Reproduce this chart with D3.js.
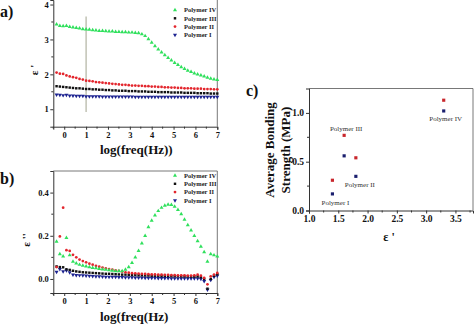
<!DOCTYPE html>
<html><head><meta charset="utf-8">
<script src="https://cdn.jsdelivr.net/npm/d3@7"></script>
<style>body{margin:0;background:#fff}svg{display:block}text{font-family:"Liberation Serif","Times New Roman",serif}</style>
</head><body>
<script>
// ---------- DATA ----------
const logFreq = [-0.35,-0.2,-0.05,0.1,0.25,0.4,0.55,0.7,0.85,1.0,1.15,1.3,1.45,1.6,1.75,1.9,2.05,2.2,2.35,2.5,2.65,2.8,2.95,3.1,3.25,3.4,3.55,3.7,3.85,4.0,4.15,4.3,4.45,4.6,4.75,4.9,5.05,5.2,5.35,5.5,5.65,5.8,5.95,6.1,6.25,6.4,6.55,6.7,6.85,7.0];
const seriesNames = ["Polymer IV","Polymer III","Polymer II","Polymer I"];
// eps' (panel a)
const eps1_IV  = [3.43,3.39,3.38,3.39,3.36,3.35,3.33,3.32,3.30,3.29,3.28,3.27,3.26,3.25,3.25,3.24,3.23,3.23,3.22,3.22,3.21,3.21,3.20,3.20,3.19,3.18,3.15,3.10,3.01,2.91,2.81,2.72,2.63,2.55,2.47,2.40,2.33,2.27,2.21,2.16,2.11,2.07,2.03,2.00,1.97,1.94,1.91,1.88,1.86,1.84];
const eps1_III = [1.66,1.65,1.64,1.63,1.62,1.61,1.60,1.60,1.59,1.58,1.58,1.57,1.57,1.56,1.56,1.55,1.55,1.54,1.54,1.53,1.53,1.53,1.52,1.52,1.52,1.51,1.51,1.51,1.50,1.50,1.50,1.49,1.49,1.49,1.49,1.48,1.48,1.48,1.48,1.47,1.47,1.47,1.47,1.46,1.46,1.46,1.46,1.45,1.45,1.45];
const eps1_II  = [2.05,2.02,2.01,1.97,1.94,1.92,1.90,1.87,1.85,1.82,1.81,1.80,1.78,1.77,1.76,1.75,1.74,1.73,1.72,1.71,1.70,1.70,1.69,1.68,1.68,1.67,1.67,1.66,1.66,1.65,1.65,1.64,1.64,1.63,1.63,1.62,1.62,1.61,1.61,1.60,1.60,1.60,1.59,1.59,1.59,1.58,1.58,1.58,1.57,1.57];
const eps1_I   = [1.42,1.41,1.40,1.41,1.39,1.39,1.38,1.38,1.38,1.37,1.37,1.37,1.37,1.37,1.36,1.36,1.36,1.36,1.36,1.36,1.36,1.36,1.36,1.36,1.35,1.35,1.35,1.35,1.35,1.35,1.35,1.35,1.35,1.35,1.35,1.35,1.35,1.35,1.35,1.35,1.35,1.35,1.35,1.35,1.35,1.35,1.35,1.35,1.35,1.35];
// eps'' (panel b)
const eps2_IV  = [0.173,0.115,0.105,0.19,0.11,0.08,0.072,0.066,0.062,0.058,0.055,0.052,0.05,0.047,0.045,0.043,0.041,0.039,0.037,0.036,0.037,0.043,0.055,0.075,0.10,0.13,0.165,0.20,0.24,0.27,0.295,0.315,0.33,0.34,0.345,0.343,0.335,0.32,0.30,0.275,0.25,0.225,0.20,0.175,0.15,0.125,0.08,0.115,0.11,0.105];
const eps2_III = [0.058,0.055,0.054,0.045,0.042,0.038,0.035,0.033,0.031,0.030,0.029,0.028,0.027,0.026,0.025,0.024,0.024,0.023,0.022,0.021,0.020,0.020,0.019,0.018,0.018,0.017,0.017,0.016,0.016,0.015,0.015,0.015,0.014,0.014,0.014,0.013,0.013,0.013,0.012,0.012,0.012,0.011,0.011,0.012,0.008,0.000,-0.045,0.000,0.015,0.022];
const eps2_II  = [0.055,0.197,0.33,0.133,0.13,0.112,0.10,0.09,0.083,0.077,0.071,0.066,0.061,0.057,0.053,0.049,0.046,0.043,0.04,0.037,0.034,0.031,0.029,0.027,0.026,0.025,0.024,0.023,0.022,0.021,0.021,0.02,0.02,0.019,0.019,0.018,0.018,0.017,0.017,0.017,0.016,0.016,0.017,0.02,0.015,0.005,-0.025,0.012,0.02,0.028];
const eps2_I   = [0.033,0.045,0.035,0.040,0.030,0.020,0.018,0.017,0.016,0.015,0.014,0.013,0.012,0.012,0.011,0.010,0.010,0.009,0.009,0.008,0.008,0.007,0.007,0.007,0.006,0.006,0.006,0.005,0.005,0.005,0.005,0.004,0.004,0.004,0.004,0.003,0.003,0.003,0.003,0.003,0.002,0.002,0.002,0.003,0.000,-0.010,-0.050,-0.005,0.010,0.015];
// panel c
const cNames = ["Polymer I","Polymer II","Polymer III","Polymer IV"];
const cEps = [1.4, 1.8, 1.6, 3.3];
const cStrengthRed  = [0.31, 0.54, 0.77, 1.13];
const cStrengthBlue = [0.17, 0.35, 0.56, 1.02];
const ticksA_y = [1,2,3,4];
const ticksB_y = [0.0,0.2,0.4];
const ticksAB_x = [0,1,2,3,4,5,6,7];
const ticksC_x = [1.0,1.5,2.0,2.5,3.0,3.5];
const ticksC_y = [0.0,0.5,1.0];

// ---------- STYLE ----------
const colors = {"Polymer IV":"#2fe05c","Polymer III":"#111111","Polymer II":"#e3262d","Polymer I":"#1c2290"};
const shapes = {"Polymer IV":"up","Polymer III":"sq","Polymer II":"ci","Polymer I":"dn"};

const svg = d3.select("body").append("svg").attr("width",474).attr("height",325);

function symPath(name, size){
  const t = shapes[name];
  if(t==="up"||t==="dn") return d3.symbol().type(d3.symbolTriangle).size(size)();
  if(t==="sq") return d3.symbol().type(d3.symbolSquare).size(size*0.85)();
  return d3.symbol().type(d3.symbolCircle).size(size*0.85)();
}
function symRot(name){ return shapes[name]==="dn" ? 180 : 0; }

function drawPanel(opts){
  const g = svg.append("g");
  const x = d3.scaleLinear().domain([-0.5,7]).range([53.3,217.3]);
  const y = d3.scaleLinear().domain(opts.yDomain).range(opts.yRange);
  const xAxis = d3.axisBottom(x).tickValues(ticksAB_x).tickSize(3).tickPadding(2).tickFormat(d3.format("d"));
  const gx = g.append("g").attr("transform",`translate(0,${opts.yRange[0]})`).call(xAxis);
  const xMinor = [-0.5,0.5,1.5,2.5,3.5,4.5,5.5,6.5];
  gx.selectAll(".minor").data(xMinor).enter().append("line").attr("class","minor")
    .attr("x1",d=>x(d)).attr("x2",d=>x(d)).attr("y1",0).attr("y2",2).attr("stroke","#333");
  const yAxis = d3.axisLeft(y).tickValues(opts.yTicks).tickSize(3).tickPadding(1.5).tickFormat(opts.yFmt);
  const gy = g.append("g").attr("transform","translate(53.3,0)").call(yAxis);
  gy.selectAll(".minor").data(opts.yMinor).enter().append("line").attr("class","minor")
    .attr("x1",0).attr("x2",-2).attr("y1",d=>y(d)).attr("y2",d=>y(d)).attr("stroke","#333");
  [gx,gy].forEach(a=>{a.select(".domain").attr("stroke","#333").attr("stroke-width",1);
    a.selectAll(".tick line").attr("stroke","#333");
    a.selectAll("text").attr("font-size",8.5).attr("font-weight","bold").attr("fill","#111").attr("font-family","Liberation Serif");});
  g.append("line").attr("x1",217.3).attr("x2",217.3).attr("y1",opts.yRange[1]).attr("y2",opts.yRange[0]).attr("stroke","#555").attr("stroke-width",0.8);
  if(opts.top) g.append("line").attr("x1",53.3).attr("x2",217.3).attr("y1",opts.yRange[1]).attr("y2",opts.yRange[1]).attr("stroke","#555").attr("stroke-width",0.8);
  if(opts.vline){
    g.append("line").attr("x1",x(opts.vline.x)).attr("x2",x(opts.vline.x)).attr("y1",y(opts.vline.y0)).attr("y2",y(opts.vline.y1))
      .attr("stroke","#b7b9a8").attr("stroke-width",1.3);
  }
  const order = ["Polymer I","Polymer III","Polymer II","Polymer IV"];
  order.forEach(name=>{
    const vals = opts.series[name];
    const pts = logFreq.map((f,i)=>({f, v: vals[i]}));
    g.append("g").selectAll("path").data(pts).enter().append("path")
      .attr("d", symPath(name, 7)).attr("fill", colors[name])
      .attr("transform", d=>`translate(${x(d.f)},${y(d.v)}) rotate(${symRot(name)})`);
  });
  seriesNames.forEach((name,i)=>{
    const ly = opts.legendY + i*8.3;
    g.append("path").attr("d", symPath(name, 7)).attr("fill", colors[name])
      .attr("transform",`translate(175,${ly}) rotate(${symRot(name)})`);
    g.append("text").attr("x",184).attr("y",ly+2.2).attr("font-size",6.5).attr("font-weight","bold").attr("fill","#222").text(name);
  });
  g.append("text").attr("x",100).attr("y",opts.xLabelY).attr("font-size",13).attr("font-weight","bold").attr("fill","#111").text(opts.xLabel);
  g.append("text").attr("transform",`translate(${opts.yLabelX},${opts.yLabelY}) rotate(-90)`).attr("text-anchor","middle")
    .attr("font-size",11).attr("font-weight","bold").attr("fill","#111").text(opts.yLabel);
  g.append("text").attr("x",0).attr("y",opts.tagY).attr("font-size",16).attr("font-weight","bold").attr("fill","#111").text(opts.tag);
}

drawPanel({
  yDomain:[0.5,4.13], yRange:[126.7,0], yTicks:ticksA_y, yMinor:[1.5,2.5,3.5], yFmt:d3.format("d"), top:false,
  series:{"Polymer IV":eps1_IV,"Polymer III":eps1_III,"Polymer II":eps1_II,"Polymer I":eps1_I},
  vline:{x:1, y0:0.92, y1:3.66}, legendY:10,
  xLabel:"log(freq(Hz))", xLabelY:154, yLabel:"ε '", yLabelX:38, yLabelY:70, tag:"a)", tagY:17
});
drawPanel({
  yDomain:[-0.065,0.5], yRange:[293,171], yTicks:ticksB_y, yMinor:[0.1,0.3], yFmt:d3.format(".1f"), top:true,
  series:{"Polymer IV":eps2_IV,"Polymer III":eps2_III,"Polymer II":eps2_II,"Polymer I":eps2_I},
  legendY:175.5,
  xLabel:"log(freq(Hz)", xLabelY:321, yLabel:"ε ''", yLabelX:29.5, yLabelY:240, tag:"b)", tagY:184
});

// ---------- panel c ----------
(function(){
  const g = svg.append("g");
  const x = d3.scaleLinear().domain([1.0,3.8]).range([309,473]);
  const y = d3.scaleLinear().domain([0,1.25]).range([210.5,88.5]);
  const gx = g.append("g").attr("transform","translate(0,210.5)")
    .call(d3.axisBottom(x).tickValues(ticksC_x).tickSize(3).tickPadding(2).tickFormat(d3.format(".1f")));
  gx.selectAll(".minor").data([1.25,1.75,2.25,2.75,3.25,3.75]).enter().append("line")
    .attr("x1",d=>x(d)).attr("x2",d=>x(d)).attr("y1",0).attr("y2",2).attr("stroke","#333");
  const gy = g.append("g").attr("transform","translate(309,0)")
    .call(d3.axisLeft(y).tickValues(ticksC_y).tickSize(3).tickPadding(2).tickFormat(d3.format(".1f")));
  gy.selectAll(".minor").data([0.25,0.75]).enter().append("line")
    .attr("x1",0).attr("x2",-2).attr("y1",d=>y(d)).attr("y2",d=>y(d)).attr("stroke","#333");
  [gx,gy].forEach(a=>{a.select(".domain").attr("stroke","#333");
    a.selectAll(".tick line").attr("stroke","#333");
    a.selectAll("text").attr("font-size",9.5).attr("font-weight","bold").attr("fill","#111").attr("font-family","Liberation Serif");});
  g.append("line").attr("x1",309).attr("x2",473).attr("y1",88.5).attr("y2",88.5).attr("stroke","#555").attr("stroke-width",0.8);
  g.append("line").attr("x1",473).attr("x2",473).attr("y1",88.5).attr("y2",210.5).attr("stroke","#555").attr("stroke-width",0.8);
  const sq = d3.symbol().type(d3.symbolSquare).size(10);
  g.selectAll(".r").data(cEps).enter().append("path").attr("d",sq).attr("fill","#c8262c")
    .attr("transform",(d,i)=>`translate(${x(d)},${y(cStrengthRed[i])})`);
  g.selectAll(".b").data(cEps).enter().append("path").attr("d",sq).attr("fill","#1a1f6e")
    .attr("transform",(d,i)=>`translate(${x(d)},${y(cStrengthBlue[i])})`);
  const off = {"Polymer I":[3,11,"b"],"Polymer II":[4,10.5,"b"],"Polymer III":[2,-4.5,"r"],"Polymer IV":[2,10.5,"b"]};
  cNames.forEach((n,i)=>{
    const o = off[n];
    const yy = o[2]==="r" ? cStrengthRed[i] : cStrengthBlue[i];
    g.append("text").attr("x",x(cEps[i])+o[0]).attr("y",y(yy)+o[1]).attr("text-anchor","middle")
      .attr("font-size",7).attr("fill","#333").text(n);
  });
  g.append("text").attr("transform","translate(273.5,150) rotate(-90)").attr("text-anchor","middle")
    .attr("font-size",13).attr("font-weight","bold").attr("fill","#111").text("Average Bonding");
  g.append("text").attr("transform","translate(289.5,150) rotate(-90)").attr("text-anchor","middle")
    .attr("font-size",13).attr("font-weight","bold").attr("fill","#111").text("Strength (MPa)");
  g.append("text").attr("x",389).attr("y",241).attr("text-anchor","middle").attr("font-size",12).attr("font-weight","bold").attr("fill","#111").text("ε '");
  g.append("text").attr("x",246).attr("y",96).attr("font-size",16).attr("font-weight","bold").attr("fill","#111").text("c)");
})();
</script>
</body></html>
